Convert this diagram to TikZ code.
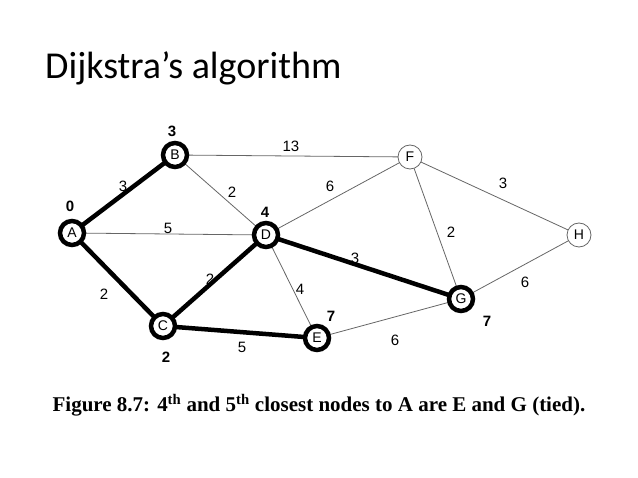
\documentclass[tikz,border=0pt]{standalone}
\usepackage{fontspec}
\setmainfont{Liberation Serif}
\newfontfamily\titlefont{Carlito}
\newfontfamily\gfont{Liberation Sans}
\begin{document}
\begin{tikzpicture}[x=1pt,y=-1pt,
  vis/.style={circle,draw=black,line width=4.5pt,fill=white,inner sep=0pt,minimum size=24pt,font=\gfont\fontsize{14}{14}\selectfont},
  unv/.style={circle,draw=black!60,line width=0.8pt,fill=white,inner sep=0pt,minimum size=24pt,font=\gfont\fontsize{14}{14}\selectfont},
  thin/.style={draw=black!60,line width=0.8pt},
  thick/.style={draw=black,line width=4.5pt},
  wl/.style={font=\gfont\fontsize{15}{15}\selectfont,inner sep=0pt},
  dl/.style={font=\gfont\bfseries\fontsize{15}{15}\selectfont,inner sep=0pt}]
\useasboundingbox (0,0) rectangle (638,478);
\node[anchor=west,font=\titlefont\fontsize{38}{38}\selectfont,inner sep=0pt] (title) at (45,68) {Dijkstra’s algorithm};
\coordinate (pA) at (72,233); \coordinate (pB) at (175,155); \coordinate (pD) at (266,235);
\coordinate (pC) at (163,326); \coordinate (pE) at (317,338); \coordinate (pG) at (461,299);
\coordinate (pF) at (410,157); \coordinate (pH) at (579,235);
\draw[thin] (pB)--(pF); \draw[thin] (pB)--(pD); \draw[thin] (pA)--(pD);
\draw[thin] (pD)--(pF); \draw[thin] (pF)--(pH); \draw[thin] (pF)--(pG);
\draw[thin] (pG)--(pH); \draw[thin] (pD)--(pE); \draw[thin] (pE)--(pG);
\draw[thick] (pA)--(pB); \draw[thick] (pA)--(pC); \draw[thick] (pC)--(pD);
\draw[thick] (pC)--(pE); \draw[thick] (pD)--(pG);
\node[vis] (A) at (pA) {A}; \node[vis] (B) at (pB) {B}; \node[vis] (D) at (pD) {D};
\node[vis] (C) at (pC) {C}; \node[vis] (E) at (pE) {E}; \node[vis] (G) at (pG) {G};
\node[unv] (F) at (pF) {F}; \node[unv] (H) at (pH) {H};
\node[dl] (lA) at (70,206) {0}; \node[dl] (lB) at (172,131) {3}; \node[dl] (lD) at (265,212) {4};
\node[dl] (lE) at (331,316) {7}; \node[dl] (lG) at (487,321) {7}; \node[dl] (lC) at (166,357) {2};
\node[wl] at (123,186) {3}; \node[wl] at (291,146) {13}; \node[wl] at (232,192) {2};
\node[wl] at (168,228) {5}; \node[wl] at (330,186) {6}; \node[wl] at (503,183) {3};
\node[wl] at (451,232) {2}; \node[wl] at (525,282) {6}; \node[wl] at (355,258) {3};
\node[wl] at (300,289) {4}; \node[wl] at (210,279) {2}; \node[wl] at (104,294) {2};
\node[wl] at (242,347) {5}; \node[wl] at (395,340) {6};
\node[font=\bfseries\fontsize{21}{21}\selectfont] (cap) at (319,405) {Figure 8.7: 4\textsuperscript{th} and 5\textsuperscript{th} closest nodes to A are E and G (tied).};
\end{tikzpicture}
\end{document}
